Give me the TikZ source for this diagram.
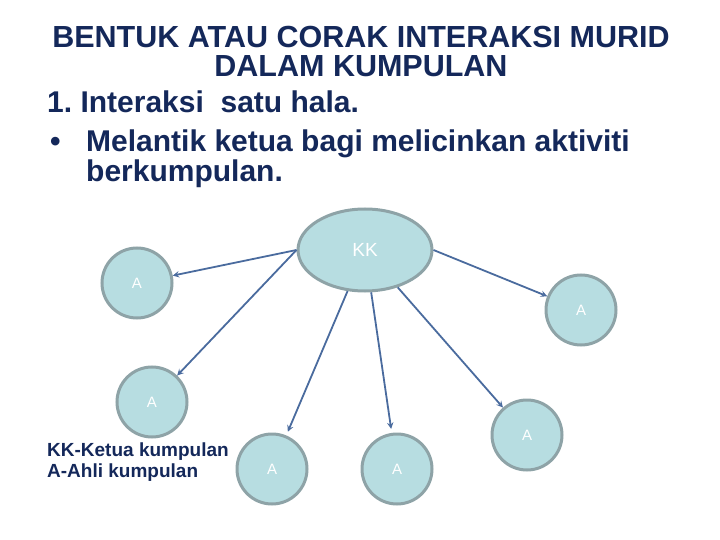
\documentclass[tikz,border=0pt]{standalone}
\usepackage{fontspec}
\setmainfont{Liberation Sans}
\usetikzlibrary{arrows,positioning,shapes}
\definecolor{navy}{HTML}{14285A}
\definecolor{ballfill}{HTML}{B7DDE1}
\definecolor{balledge}{HTML}{8EA3A7}
\definecolor{linkblue}{HTML}{4A6B9E}
\tikzset{
	member/.style = {circle, draw = balledge, fill = ballfill, line width = 3pt, minimum size = 70pt, inner sep = 0pt, text = white, font = \fontsize{15}{15}\selectfont},
	leader/.style = {ellipse, draw = balledge, fill = ballfill, line width = 3pt, minimum width = 134pt, minimum height = 82pt, inner sep = 0pt, text = white, font = \fontsize{19}{19}\selectfont},
	link/.style = {->, >=stealth, draw = linkblue, line width = 1.8pt},
	heading/.style = {text = navy, font = \bfseries\fontsize{30.5}{30.5}\selectfont, inner sep = 0pt},
	point/.style = {text = navy, font = \bfseries\fontsize{30}{26}\selectfont, inner sep = 0pt, align = left},
	legend/.style = {anchor = base west, text = navy, font = \bfseries\fontsize{19}{19}\selectfont, inner sep = 0pt}
}
\frenchspacing
\begin{document}
\begin{tikzpicture}[x=1pt,y=-1pt]
			\useasboundingbox (0,0) rectangle (720,540);

			% heading
			\node [heading, anchor = base] (t1) at (361, 48) {BENTUK ATAU CORAK INTERAKSI MURID};
			\node [heading, anchor = base] (t2) at (361, 77) {DALAM KUMPULAN};
			\node [point, anchor = base west] (t3) at (47, 113) {1. Interaksi\ \ satu hala.};
			\node [point, anchor = base west] (bul) at (50, 152) {\textbullet};
			\node [point, anchor = north west] (t4) at (86, 130) {Melantik ketua bagi melicinkan aktiviti\\berkumpulan.};

			% group
			\node [leader] (KK) at (365, 250) {KK};
			\node [member] (A1) at (137, 283) {A};
			\node [member] (A2) at (581, 310) {A};
			\node [member] (A3) at (152, 402) {A};
			\node [member] (A4) at (272, 469) {A};
			\node [member] (A5) at (397, 469) {A};
			\node [member] (A6) at (527, 435) {A};

			\draw [link] (KK.west) -- (A1);
			\draw [link] (KK.west) -- (A3);
			\draw [link, shorten > = 4pt] (KK) -- (A4);
			\draw [link, shorten > = 4pt] (KK) -- (A5);
			\draw [link] (KK) -- (A6);
			\draw [link] (KK.east) -- (A2);

			% legend
			\node [legend] (k1) at (47, 456) {KK-Ketua kumpulan};
			\node [legend] (k2) at (47, 477) {A-Ahli kumpulan};
		\end{tikzpicture}
\end{document}
